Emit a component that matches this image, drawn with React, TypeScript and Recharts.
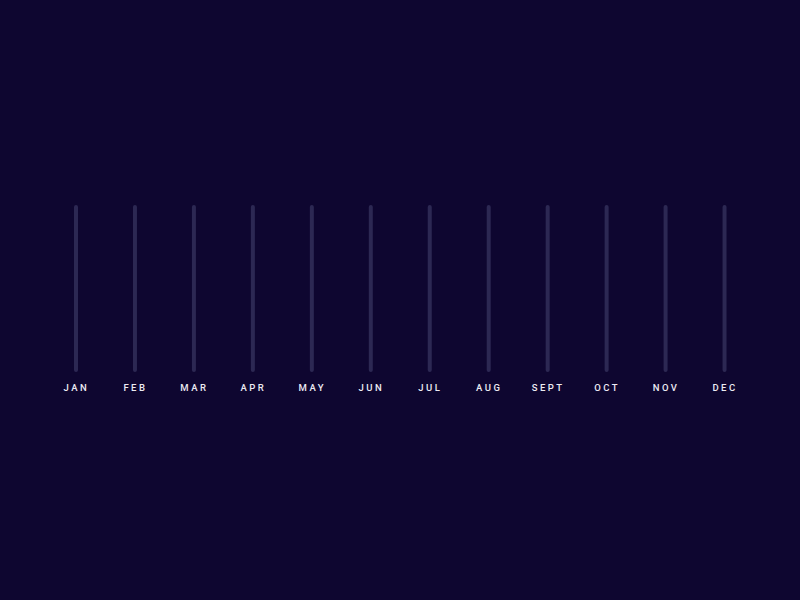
import { BarChart, Bar, XAxis, YAxis } from "recharts";

const months = ["JAN", "FEB", "MAR", "APR", "MAY", "JUN", "JUL", "AUG", "SEPT", "OCT", "NOV", "DEC"];
// no filled values shown in the picture, only the empty tracks
const values = [0, 0, 0, 0, 0, 0, 0, 0, 0, 0, 0, 0];
const trackMax = 100;

const data = months.map((m, i) => ({ month: m, value: values[i], track: trackMax }));

export default function App() {
  return (
    <div
      style={{
        position: "absolute",
        left: 0,
        top: 0,
        width: 800,
        height: 600,
        background: "#0e0630",
      }}
    >
      <BarChart
        width={800}
        height={600}
        data={data}
        margin={{ top: 205, right: 45.5, bottom: 198, left: 47 }}
      >
        <XAxis
          dataKey="month"
          axisLine={false}
          tickLine={false}
          tickSize={0}
          tickMargin={12}
          height={30}
          interval={0}
          tick={{
            fill: "#ecebf3",
            fontSize: 9.5,
            fontFamily: "Roboto, sans-serif",
            fontWeight: 500,
            letterSpacing: 2.5,
          }}
        />
        <XAxis xAxisId="over" dataKey="month" hide />
        <YAxis hide domain={[0, trackMax]} />
        <Bar
          dataKey="track"
          barSize={4}
          fill="#2c2853"
          radius={2}
          isAnimationActive={false}
        />
        <Bar
          dataKey="value"
          xAxisId="over"
          barSize={4}
          fill="#6a4cff"
          radius={2}
          isAnimationActive={false}
        />
      </BarChart>
    </div>
  );
}
